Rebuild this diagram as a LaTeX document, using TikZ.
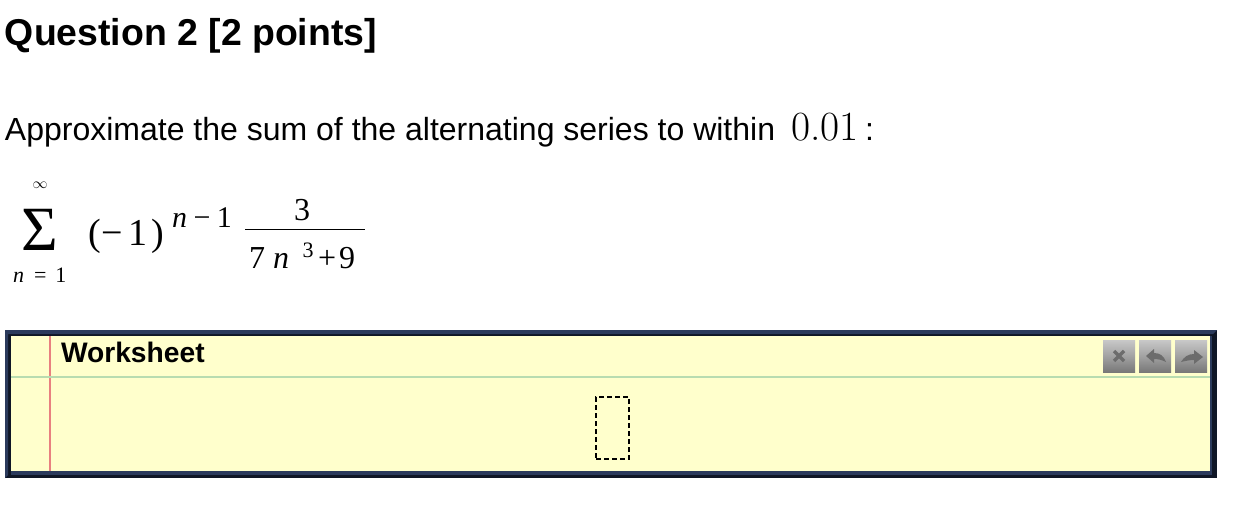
\documentclass[tikz,border=0pt]{standalone}
\usepackage[no-math]{fontspec}
\usepackage{fix-cm}
\setmainfont{Liberation Sans}
\newfontfamily\mathlike{Latin Modern Roman}
\newfontfamily\serifm{Liberation Serif}
\definecolor{paper}{HTML}{FFFFCC}
\definecolor{frameA}{HTML}{2B3A5C}
\definecolor{frameB}{HTML}{0F1626}
\definecolor{redrule}{HTML}{E88080}
\definecolor{greenrule}{HTML}{B8DCB0}
\definecolor{BtnTop}{HTML}{C8C8C8}
\definecolor{BtnMid}{HTML}{A2A2A2}
\definecolor{BtnBot}{HTML}{787878}
\definecolor{GlyphC}{HTML}{6C6C6C}
\tikzset{
 txt/.style={inner sep=0pt,outer sep=0pt,anchor=base west,text=black},
 mth/.style={txt,anchor=base},
 btn/.style={inner sep=0pt,minimum width=32pt,minimum height=32pt,draw=none,top color=BtnTop,bottom color=BtnBot,middle color=BtnMid},
 glyph/.style={draw=GlyphC,line width=3.5pt}
}
\newcommand{\serfont}[1]{\serifm\fontsize{#1}{#1}\selectfont}
\begin{document}
\begin{tikzpicture}[x=1pt,y=-1pt]
\useasboundingbox (0,0) rectangle (1255,513);
\fill[white] (0,0) rectangle (1255,513);
% texts
\node[txt,font=\bfseries\fontsize{37.4}{37.4}\selectfont] (title) at (5,46) {Question 2 [2 points]};
\node[txt,font=\fontsize{32}{32}\selectfont] (intro) at (5,141) {Approximate the sum of the alternating series to within};
\node[mth,font=\mathlike\fontsize{41.5}{41.5}\selectfont] (val) at (825,141) {0.01};
\node[txt,font=\fontsize{32}{32}\selectfont] (colon) at (865,141) {:};
% series
\node[mth,font=\fontsize{15}{15}\selectfont] (inf) at (40,189) {$\infty$};
\node[mth,font=\serfont{63}] (sig) at (40,250) {Σ};
\node[txt,font=\serfont{22}] (low) at (13,282) {\textit{n}\kern10pt =\kern9pt 1};
\node[txt,font=\serfont{38}] (neg) at (88,245) {(\kern1pt −\kern5pt 1\kern4pt )};
\node[txt,font=\serfont{30}] (exp) at (172,227) {\textit{n}\kern6.5pt −\kern6.5pt 1};
\node[mth,font=\serfont{32}] (num) at (302,220) {3};
\coordinate (fa) at (245,229.5);
\coordinate (fb) at (365,229.5);
\draw[line width=1.5pt] (fa) -- (fb);
\node[txt,font=\serfont{32}] (den) at (249,268) {7\kern8pt \textit{n}};
\node[mth,font=\serfont{22}] (cube) at (308,257) {3};
\node[txt,font=\serfont{32}] (den2) at (318,268) {+\kern3pt 9};
% worksheet
\fill[frameB] (5,330) rectangle (1217,478);
\fill[frameA] (5,478) -- (5,330) -- (1217,330) -- (1213,334) -- (8,334) -- (8,475) -- cycle;
\fill[frameA] (11,471) rectangle (1212,475);
\fill[frameA] (1210,336) rectangle (1212,475);
\fill[paper] (11,336) rectangle (1210,471);
\fill[redrule] (49,336) rectangle (51,471);
\fill[greenrule] (11,376) rectangle (1210,378);
\node[txt,font=\bfseries\fontsize{28.2}{28.2}\selectfont] (ws) at (61,362) {Worksheet};
\node[btn] (b1) at (1119,356) {};
\node[btn] (b2) at (1155,356) {};
\node[btn] (b3) at (1191,356) {};
\draw[glyph,line cap=butt] (1114,351) -- (1124,361) (1124,351) -- (1114,361);
\fill[GlyphC] (1146,356) -- (1154,349) -- (1154,353) .. controls (1160,353) and (1164,356) .. (1166,362) .. controls (1162,360) and (1158,359) .. (1154,359) -- (1154,363) -- cycle;
\fill[GlyphC] (1203,357) -- (1194,350) -- (1194,354) .. controls (1188,354) and (1184,357) .. (1181,362) .. controls (1185,361) and (1190,360) .. (1194,360) -- (1194,364) -- cycle;
\node[draw=black,dash pattern=on 5pt off 3pt,line width=2pt,inner sep=0pt,outer sep=0pt,minimum width=33pt,minimum height=62pt] (box) at (612.5,428) {};
\end{tikzpicture}
\end{document}
